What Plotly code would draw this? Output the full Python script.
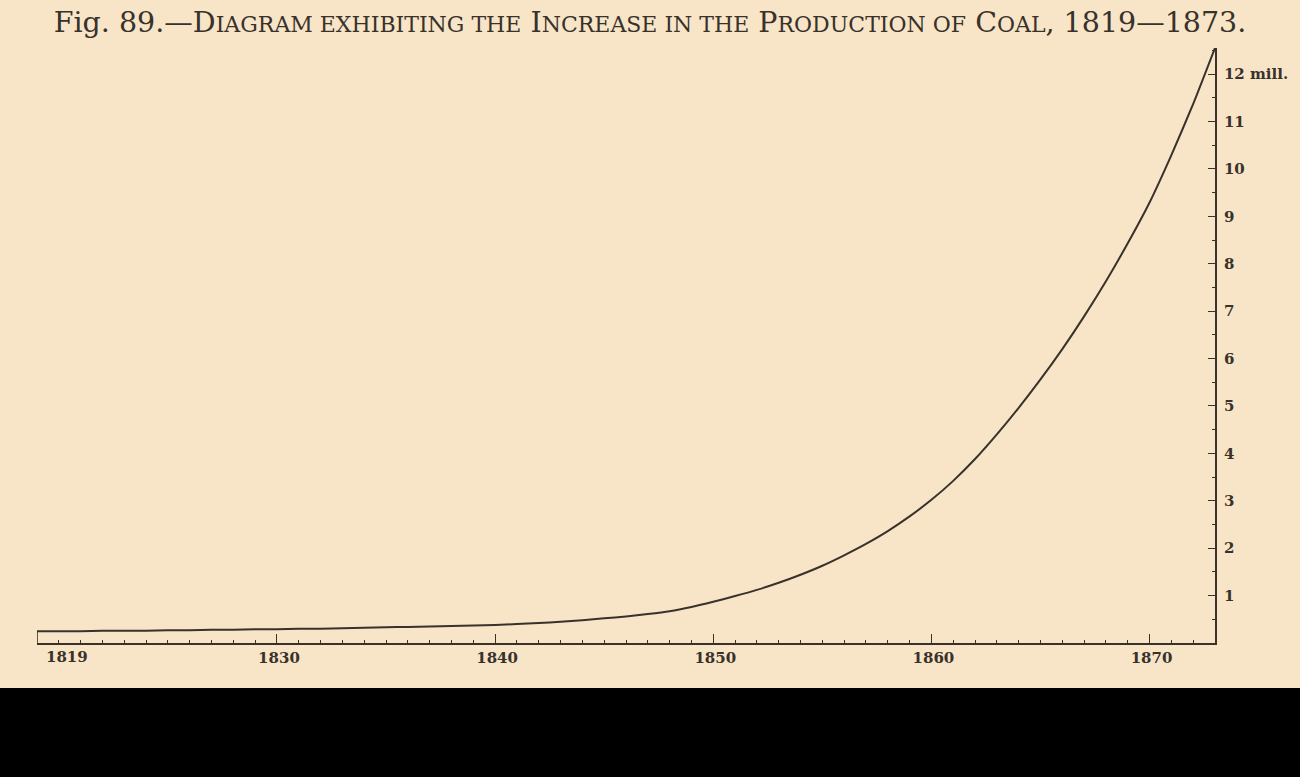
import plotly.graph_objects as go

# ---- data ----
years = list(range(1819, 1874))
production_mill = [
    0.25, 0.25, 0.25, 0.26, 0.26, 0.26, 0.27, 0.27, 0.28, 0.28,   # 1819-1828
    0.29, 0.29, 0.30, 0.30, 0.31, 0.32, 0.33, 0.34, 0.35, 0.36,   # 1829-1838
    0.37, 0.38, 0.40, 0.42, 0.45, 0.48, 0.52, 0.56, 0.61, 0.67,   # 1839-1848
    0.76, 0.87, 0.99, 1.12, 1.27, 1.44, 1.63, 1.85, 2.09, 2.36,   # 1849-1858
    2.67, 3.02, 3.42, 3.88, 4.40, 4.96, 5.56, 6.20, 6.89, 7.63,   # 1859-1868
    8.43, 9.29, 10.29, 11.37, 12.55                               # 1869-1873
]
x_major_ticks = [1830, 1840, 1850, 1860, 1870]
y_ticks = list(range(1, 13))
y_tick_labels = [str(v) for v in y_ticks[:-1]] + ["12 mill."]
first_year_label = "1819"

ink = "#38322b"
paper = "#F8E5C8"
sc = 22  # small-caps letter size
title_html = (
    "Fig. 89.—D<span style='font-size:%dpx'>IAGRAM EXHIBITING THE</span> "
    "I<span style='font-size:%dpx'>NCREASE IN THE</span> "
    "P<span style='font-size:%dpx'>RODUCTION OF</span> "
    "C<span style='font-size:%dpx'>OAL</span>, 1819—1873." % (sc, sc, sc, sc)
)
tick_font = dict(family="DejaVu Serif", size=15, color=ink, weight="bold")

fig = go.Figure()

# curve
fig.add_trace(go.Scatter(
    x=years, y=production_mill, mode="lines",
    line=dict(color=ink, width=2, shape="spline", smoothing=0.5),
    hoverinfo="skip", showlegend=False,
))
# small closing bracket at the start of the curve
fig.add_trace(go.Scatter(
    x=[years[0], years[0]], y=[0, production_mill[0]], mode="lines",
    line=dict(color=ink, width=1.6),
    hoverinfo="skip", showlegend=False,
))

fig.update_layout(
    width=1300, height=777,
    margin=dict(l=37, r=81, t=48, b=134),
    paper_bgcolor=paper, plot_bgcolor=paper,
    title=dict(
        text=title_html, x=0.5, xanchor="center", xref="container",
        y=1 - 22 / 777, yanchor="middle", yref="container",
        font=dict(family="DejaVu Serif", size=28.5, color=ink),
    ),
    xaxis=dict(
        range=[years[0], years[-1]],
        tickvals=x_major_ticks,
        ticktext=[str(v) for v in x_major_ticks],
        ticks="inside", ticklen=9, tickwidth=1.3, tickcolor=ink,
        minor=dict(tickvals=years[1:-1], ticks="inside", ticklen=3,
                   tickwidth=1.2, tickcolor=ink, showgrid=False),
        showline=True, linecolor=ink, linewidth=1.8,
        showgrid=False, zeroline=False,
        tickfont=tick_font,
        ticklabelshift=2,
    ),
    yaxis=dict(
        range=[0, max(production_mill)],
        side="right",
        tickvals=y_ticks, ticktext=y_tick_labels,
        ticks="inside", ticklen=7, tickwidth=1.3, tickcolor=ink,
        minor=dict(dtick=0.5, ticks="inside", ticklen=3, tickwidth=1.2,
                   tickcolor=ink, showgrid=False),
        showline=True, linecolor=ink, linewidth=1.8,
        showgrid=False, zeroline=False,
        tickfont=tick_font,
        ticklabelstandoff=4,
    ),
    shapes=[dict(
        type="rect", xref="paper", yref="paper",
        x0=-0.04, x1=1.08, y0=-0.24, y1=-(688 - 643) / 595,
        fillcolor="black", line=dict(width=0), layer="above",
    )],
    annotations=[dict(
        x=years[0], y=0, xref="x", yref="y", text=first_year_label,
        showarrow=False, xanchor="left", yanchor="top", xshift=7, yshift=-3,
        font=tick_font,
    )],
)

fig.write_html(
    "out.html",
    config={"displayModeBar": False},
    post_script="document.body.style.margin='0';document.body.style.padding='0';",
)
